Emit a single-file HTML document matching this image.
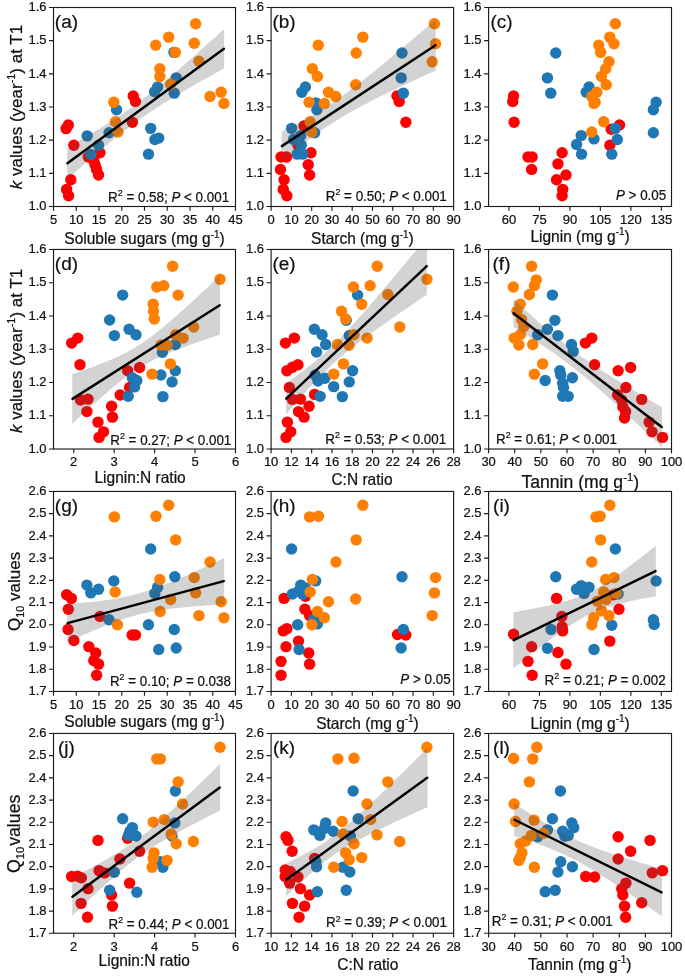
<!DOCTYPE html>
<html lang="en"><head><meta charset="utf-8"><title>Figure</title>
<style>html,body{margin:0;padding:0;background:#fff}svg{display:block}.t text{font-family:"Liberation Sans",Arial,Helvetica,sans-serif;fill:#111;stroke:#111;stroke-width:0.22px}</style></head>
<body>
<svg width="685" height="977" viewBox="0 0 685 977">
<rect width="685" height="977" fill="#ffffff"/>
<g id="panel-a">
<clipPath id="clip-a"><rect x="53.5" y="7.5" width="182" height="199"/></clipPath>
<g fill="#ff0000">
<circle cx="133.21" cy="95.92" r="5.7"/>
<circle cx="135.43" cy="101.47" r="5.7"/>
<circle cx="132.38" cy="122.27" r="5.7"/>
<circle cx="68.31" cy="125.04" r="5.7"/>
<circle cx="66.09" cy="128.65" r="5.7"/>
<circle cx="73.85" cy="145.29" r="5.7"/>
<circle cx="99.93" cy="152.78" r="5.7"/>
<circle cx="88.28" cy="156.94" r="5.7"/>
<circle cx="93.82" cy="161.1" r="5.7"/>
<circle cx="95.21" cy="165.26" r="5.7"/>
<circle cx="96.6" cy="169.42" r="5.7"/>
<circle cx="98.54" cy="174.97" r="5.7"/>
<circle cx="70.8" cy="179.69" r="5.7"/>
<circle cx="66.64" cy="189.39" r="5.7"/>
<circle cx="68.58" cy="195.77" r="5.7"/>
</g>
<g fill="#1f78b4">
<circle cx="173.99" cy="52.37" r="5.7"/>
<circle cx="176.2" cy="77.89" r="5.7"/>
<circle cx="157.62" cy="87.04" r="5.7"/>
<circle cx="154.57" cy="91.76" r="5.7"/>
<circle cx="174.26" cy="93.15" r="5.7"/>
<circle cx="116.57" cy="109.79" r="5.7"/>
<circle cx="150.69" cy="128.37" r="5.7"/>
<circle cx="158.73" cy="138.08" r="5.7"/>
<circle cx="154.85" cy="139.47" r="5.7"/>
<circle cx="148.47" cy="154.17" r="5.7"/>
<circle cx="87.17" cy="135.86" r="5.7"/>
<circle cx="109.08" cy="132.81" r="5.7"/>
<circle cx="98.54" cy="145.29" r="5.7"/>
<circle cx="90.77" cy="154.45" r="5.7"/>
</g>
<g fill="#ff7f00">
<circle cx="195.62" cy="23.8" r="5.7"/>
<circle cx="168.72" cy="37.12" r="5.7"/>
<circle cx="155.68" cy="45.16" r="5.7"/>
<circle cx="194.23" cy="43.22" r="5.7"/>
<circle cx="175.37" cy="52.37" r="5.7"/>
<circle cx="198.95" cy="61.25" r="5.7"/>
<circle cx="159.84" cy="68.74" r="5.7"/>
<circle cx="159.84" cy="76.5" r="5.7"/>
<circle cx="170.66" cy="84.27" r="5.7"/>
<circle cx="210.04" cy="96.47" r="5.7"/>
<circle cx="221.14" cy="92.31" r="5.7"/>
<circle cx="223.91" cy="103.41" r="5.7"/>
<circle cx="113.8" cy="102.3" r="5.7"/>
<circle cx="115.46" cy="121.72" r="5.7"/>
<circle cx="117.96" cy="131.98" r="5.7"/>
</g>
<polygon points="67.24,147.52 72.47,144.54 77.7,141.53 82.93,138.5 88.16,135.44 93.39,132.33 98.62,129.17 103.85,125.96 109.08,122.68 114.31,119.32 119.54,115.87 124.77,112.32 130,108.66 135.23,104.88 140.46,100.97 145.69,96.96 150.92,92.83 156.15,88.6 161.38,84.28 166.61,79.89 171.84,75.44 177.07,70.93 182.3,66.37 187.53,61.77 192.76,57.15 197.99,52.49 203.22,47.81 208.45,43.12 213.68,38.4 218.91,33.67 224.14,28.93 224.14,68.37 218.91,71.28 213.68,74.21 208.45,77.14 203.22,80.1 197.99,83.07 192.76,86.07 187.53,89.09 182.3,92.15 177.07,95.25 171.84,98.39 166.61,101.58 161.38,104.85 156.15,108.18 150.92,111.61 145.69,115.13 140.46,118.77 135.23,122.52 130,126.39 124.77,130.38 119.54,134.48 114.31,138.68 109.08,142.97 103.85,147.35 98.62,151.79 93.39,156.28 88.16,160.83 82.93,165.42 77.7,170.03 72.47,174.68 67.24,179.36" fill="rgb(80,80,80)" fill-opacity="0.25" clip-path="url(#clip-a)"/>
<line x1="67.45" y1="163.29" x2="223.94" y2="48.8" stroke="#000" stroke-width="2.45" stroke-linecap="round"/>
<rect x="53.5" y="7.5" width="182" height="199" fill="none" stroke="#1c1c1c" stroke-width="1.15"/>
<path d="M53.5 206.5v4.3M76.25 206.5v4.3M99 206.5v4.3M121.75 206.5v4.3M144.5 206.5v4.3M167.25 206.5v4.3M190 206.5v4.3M212.75 206.5v4.3M235.5 206.5v4.3M53.5 206.5h-4.5M53.5 173.33h-4.5M53.5 140.17h-4.5M53.5 107h-4.5M53.5 73.83h-4.5M53.5 40.67h-4.5M53.5 7.5h-4.5" stroke="#1c1c1c" stroke-width="1.15" fill="none"/>
<g class="t">
<text transform="translate(53.5 224.3) scale(1 1.05)" text-anchor="middle" font-size="13">5</text>
<text transform="translate(76.25 224.3) scale(1 1.05)" text-anchor="middle" font-size="13">10</text>
<text transform="translate(99 224.3) scale(1 1.05)" text-anchor="middle" font-size="13">15</text>
<text transform="translate(121.75 224.3) scale(1 1.05)" text-anchor="middle" font-size="13">20</text>
<text transform="translate(144.5 224.3) scale(1 1.05)" text-anchor="middle" font-size="13">25</text>
<text transform="translate(167.25 224.3) scale(1 1.05)" text-anchor="middle" font-size="13">30</text>
<text transform="translate(190 224.3) scale(1 1.05)" text-anchor="middle" font-size="13">35</text>
<text transform="translate(212.75 224.3) scale(1 1.05)" text-anchor="middle" font-size="13">40</text>
<text transform="translate(235.5 224.3) scale(1 1.05)" text-anchor="middle" font-size="13">45</text>
<text transform="translate(46.5 210.2) scale(1 1.05)" text-anchor="end" font-size="13">1.0</text>
<text transform="translate(46.5 177.03) scale(1 1.05)" text-anchor="end" font-size="13">1.1</text>
<text transform="translate(46.5 143.87) scale(1 1.05)" text-anchor="end" font-size="13">1.2</text>
<text transform="translate(46.5 110.7) scale(1 1.05)" text-anchor="end" font-size="13">1.3</text>
<text transform="translate(46.5 77.53) scale(1 1.05)" text-anchor="end" font-size="13">1.4</text>
<text transform="translate(46.5 44.37) scale(1 1.05)" text-anchor="end" font-size="13">1.5</text>
<text transform="translate(46.5 11.2) scale(1 1.05)" text-anchor="end" font-size="13">1.6</text>
<text transform="translate(144.5 244.2) scale(1 1.05)" text-anchor="middle" font-size="15.5">Soluble sugars (mg g<tspan dy="-6.2" font-size="9.92">-1</tspan><tspan dy="6.2">)</tspan></text>
<text transform="translate(21.6 107) rotate(-90) scale(1 1.0)" text-anchor="middle" font-size="17"><tspan font-style="italic">k</tspan> values (year<tspan dy="-6.8" font-size="10.88">-1</tspan><tspan dy="6.8">) at T1</tspan></text>
<text transform="translate(66.4 27.7) scale(1 0.97)" text-anchor="middle" font-size="19">(a)</text>
<text transform="translate(229.1 201.9) scale(1 1.05)" text-anchor="end" font-size="13.4">R<tspan dy="-5.6" font-size="8.84">2</tspan><tspan dy="5.6"> = 0.58; </tspan><tspan font-style="italic">P</tspan> &lt; 0.001</text>
</g>
</g>
<g id="panel-b">
<clipPath id="clip-b"><rect x="271.1" y="7.5" width="182.5" height="199"/></clipPath>
<g fill="#ff0000">
<circle cx="396.98" cy="95.92" r="5.7"/>
<circle cx="399.2" cy="101.47" r="5.7"/>
<circle cx="405.85" cy="122.27" r="5.7"/>
<circle cx="304.06" cy="125.88" r="5.7"/>
<circle cx="297.96" cy="145.29" r="5.7"/>
<circle cx="310.99" cy="152.78" r="5.7"/>
<circle cx="281.04" cy="156.94" r="5.7"/>
<circle cx="286.58" cy="156.94" r="5.7"/>
<circle cx="308.22" cy="164.71" r="5.7"/>
<circle cx="280.48" cy="169.42" r="5.7"/>
<circle cx="309.61" cy="174.97" r="5.7"/>
<circle cx="284.09" cy="179.69" r="5.7"/>
<circle cx="283.26" cy="189.39" r="5.7"/>
<circle cx="286.86" cy="195.77" r="5.7"/>
</g>
<g fill="#1f78b4">
<circle cx="401.97" cy="52.93" r="5.7"/>
<circle cx="401.14" cy="77.89" r="5.7"/>
<circle cx="403.36" cy="93.15" r="5.7"/>
<circle cx="305.45" cy="87.04" r="5.7"/>
<circle cx="301.84" cy="92.31" r="5.7"/>
<circle cx="315.71" cy="102.85" r="5.7"/>
<circle cx="316.82" cy="109.79" r="5.7"/>
<circle cx="291.58" cy="128.37" r="5.7"/>
<circle cx="314.6" cy="132.81" r="5.7"/>
<circle cx="300.73" cy="135.58" r="5.7"/>
<circle cx="293.52" cy="139.47" r="5.7"/>
<circle cx="298.51" cy="140.3" r="5.7"/>
<circle cx="301.28" cy="145.29" r="5.7"/>
<circle cx="297.12" cy="154.17" r="5.7"/>
<circle cx="302.67" cy="154.17" r="5.7"/>
</g>
<g fill="#ff7f00">
<circle cx="434.42" cy="23.8" r="5.7"/>
<circle cx="435.53" cy="43.77" r="5.7"/>
<circle cx="432.2" cy="61.8" r="5.7"/>
<circle cx="362.86" cy="37.12" r="5.7"/>
<circle cx="318.2" cy="45.16" r="5.7"/>
<circle cx="356.2" cy="52.93" r="5.7"/>
<circle cx="312.38" cy="68.74" r="5.7"/>
<circle cx="317.37" cy="76.5" r="5.7"/>
<circle cx="355.65" cy="84.82" r="5.7"/>
<circle cx="328.47" cy="92.31" r="5.7"/>
<circle cx="335.68" cy="96.47" r="5.7"/>
<circle cx="309.05" cy="102.3" r="5.7"/>
<circle cx="324.31" cy="103.41" r="5.7"/>
<circle cx="310.16" cy="121.72" r="5.7"/>
<circle cx="311.82" cy="131.98" r="5.7"/>
</g>
<polygon points="281.64,131.5 286.77,128.92 291.91,126.3 297.05,123.63 302.19,120.88 307.32,118.05 312.46,115.14 317.6,112.12 322.74,108.98 327.88,105.72 333.01,102.34 338.15,98.83 343.29,95.2 348.43,91.45 353.56,87.61 358.7,83.67 363.84,79.65 368.98,75.57 374.11,71.43 379.25,67.25 384.39,63.02 389.53,58.76 394.66,54.47 399.8,50.15 404.94,45.81 410.08,41.46 415.21,37.09 420.35,32.7 425.49,28.31 430.63,23.9 435.76,19.48 435.76,70.52 430.63,72.85 425.49,75.2 420.35,77.55 415.21,79.92 410.08,82.3 404.94,84.7 399.8,87.11 394.66,89.55 389.53,92.01 384.39,94.5 379.25,97.03 374.11,99.59 368.98,102.21 363.84,104.88 358.7,107.61 353.56,110.43 348.43,113.34 343.29,116.34 338.15,119.46 333.01,122.71 327.88,126.07 322.74,129.57 317.6,133.19 312.46,136.92 307.32,140.75 302.19,144.68 297.05,148.69 291.91,152.76 286.77,156.89 281.64,161.07" fill="rgb(80,80,80)" fill-opacity="0.25" clip-path="url(#clip-b)"/>
<line x1="281.87" y1="146.13" x2="435.53" y2="45.16" stroke="#000" stroke-width="2.45" stroke-linecap="round"/>
<rect x="271.1" y="7.5" width="182.5" height="199" fill="none" stroke="#1c1c1c" stroke-width="1.15"/>
<path d="M271.1 206.5v4.3M291.38 206.5v4.3M311.66 206.5v4.3M331.93 206.5v4.3M352.21 206.5v4.3M372.49 206.5v4.3M392.77 206.5v4.3M413.04 206.5v4.3M433.32 206.5v4.3M453.6 206.5v4.3M271.1 206.5h-4.5M271.1 173.33h-4.5M271.1 140.17h-4.5M271.1 107h-4.5M271.1 73.83h-4.5M271.1 40.67h-4.5M271.1 7.5h-4.5" stroke="#1c1c1c" stroke-width="1.15" fill="none"/>
<g class="t">
<text transform="translate(271.1 224.3) scale(1 1.05)" text-anchor="middle" font-size="13">0</text>
<text transform="translate(291.38 224.3) scale(1 1.05)" text-anchor="middle" font-size="13">10</text>
<text transform="translate(311.66 224.3) scale(1 1.05)" text-anchor="middle" font-size="13">20</text>
<text transform="translate(331.93 224.3) scale(1 1.05)" text-anchor="middle" font-size="13">30</text>
<text transform="translate(352.21 224.3) scale(1 1.05)" text-anchor="middle" font-size="13">40</text>
<text transform="translate(372.49 224.3) scale(1 1.05)" text-anchor="middle" font-size="13">50</text>
<text transform="translate(392.77 224.3) scale(1 1.05)" text-anchor="middle" font-size="13">60</text>
<text transform="translate(413.04 224.3) scale(1 1.05)" text-anchor="middle" font-size="13">70</text>
<text transform="translate(433.32 224.3) scale(1 1.05)" text-anchor="middle" font-size="13">80</text>
<text transform="translate(453.6 224.3) scale(1 1.05)" text-anchor="middle" font-size="13">90</text>
<text transform="translate(264.1 210.2) scale(1 1.05)" text-anchor="end" font-size="13">1.0</text>
<text transform="translate(264.1 177.03) scale(1 1.05)" text-anchor="end" font-size="13">1.1</text>
<text transform="translate(264.1 143.87) scale(1 1.05)" text-anchor="end" font-size="13">1.2</text>
<text transform="translate(264.1 110.7) scale(1 1.05)" text-anchor="end" font-size="13">1.3</text>
<text transform="translate(264.1 77.53) scale(1 1.05)" text-anchor="end" font-size="13">1.4</text>
<text transform="translate(264.1 44.37) scale(1 1.05)" text-anchor="end" font-size="13">1.5</text>
<text transform="translate(264.1 11.2) scale(1 1.05)" text-anchor="end" font-size="13">1.6</text>
<text transform="translate(362.35 244.2) scale(1 1.05)" text-anchor="middle" font-size="15.5">Starch (mg g<tspan dy="-6.2" font-size="9.92">-1</tspan><tspan dy="6.2">)</tspan></text>
<text transform="translate(284 27.7) scale(1 0.97)" text-anchor="middle" font-size="19">(b)</text>
<text transform="translate(446.8 201.3) scale(1 1.05)" text-anchor="end" font-size="13.4">R<tspan dy="-5.6" font-size="8.84">2</tspan><tspan dy="5.6"> = 0.50; </tspan><tspan font-style="italic">P</tspan> &lt; 0.001</text>
</g>
</g>
<g id="panel-c">
<clipPath id="clip-c"><rect x="488.6" y="7.5" width="182.9" height="199"/></clipPath>
<g fill="#ff0000">
<circle cx="513.57" cy="95.92" r="5.7"/>
<circle cx="512.74" cy="101.47" r="5.7"/>
<circle cx="514.12" cy="122.27" r="5.7"/>
<circle cx="619.53" cy="125.04" r="5.7"/>
<circle cx="611.2" cy="129.2" r="5.7"/>
<circle cx="609.82" cy="145.29" r="5.7"/>
<circle cx="562.11" cy="152.78" r="5.7"/>
<circle cx="527.99" cy="156.94" r="5.7"/>
<circle cx="532.15" cy="156.94" r="5.7"/>
<circle cx="557.95" cy="163.88" r="5.7"/>
<circle cx="531.6" cy="169.42" r="5.7"/>
<circle cx="565.99" cy="174.97" r="5.7"/>
<circle cx="556.56" cy="179.69" r="5.7"/>
<circle cx="562.66" cy="189.39" r="5.7"/>
<circle cx="562.11" cy="195.77" r="5.7"/>
</g>
<g fill="#1f78b4">
<circle cx="555.73" cy="52.93" r="5.7"/>
<circle cx="547.41" cy="77.89" r="5.7"/>
<circle cx="550.74" cy="93.15" r="5.7"/>
<circle cx="589.01" cy="87.04" r="5.7"/>
<circle cx="586.24" cy="92.31" r="5.7"/>
<circle cx="656.14" cy="102.3" r="5.7"/>
<circle cx="653.36" cy="109.79" r="5.7"/>
<circle cx="653.36" cy="132.81" r="5.7"/>
<circle cx="615.36" cy="128.37" r="5.7"/>
<circle cx="581.25" cy="135.58" r="5.7"/>
<circle cx="594.01" cy="138.91" r="5.7"/>
<circle cx="617.31" cy="139.47" r="5.7"/>
<circle cx="576.53" cy="144.46" r="5.7"/>
<circle cx="581.53" cy="154.17" r="5.7"/>
<circle cx="611.76" cy="154.17" r="5.7"/>
</g>
<g fill="#ff7f00">
<circle cx="615.36" cy="23.8" r="5.7"/>
<circle cx="609.82" cy="37.12" r="5.7"/>
<circle cx="613.98" cy="43.77" r="5.7"/>
<circle cx="598.72" cy="45.16" r="5.7"/>
<circle cx="600.66" cy="52.37" r="5.7"/>
<circle cx="608.99" cy="61.8" r="5.7"/>
<circle cx="605.66" cy="68.74" r="5.7"/>
<circle cx="601.5" cy="76.5" r="5.7"/>
<circle cx="606.21" cy="84.82" r="5.7"/>
<circle cx="596.78" cy="92.31" r="5.7"/>
<circle cx="591.79" cy="96.47" r="5.7"/>
<circle cx="595.12" cy="102.3" r="5.7"/>
<circle cx="594.01" cy="103.41" r="5.7"/>
<circle cx="603.72" cy="121.72" r="5.7"/>
<circle cx="591.79" cy="131.98" r="5.7"/>
</g>
<rect x="488.6" y="7.5" width="182.9" height="199" fill="none" stroke="#1c1c1c" stroke-width="1.15"/>
<path d="M508.92 206.5v4.3M539.41 206.5v4.3M569.89 206.5v4.3M600.37 206.5v4.3M630.86 206.5v4.3M661.34 206.5v4.3M488.6 206.5h-4.5M488.6 173.33h-4.5M488.6 140.17h-4.5M488.6 107h-4.5M488.6 73.83h-4.5M488.6 40.67h-4.5M488.6 7.5h-4.5" stroke="#1c1c1c" stroke-width="1.15" fill="none"/>
<g class="t">
<text transform="translate(508.92 224.3) scale(1 1.05)" text-anchor="middle" font-size="13">60</text>
<text transform="translate(539.41 224.3) scale(1 1.05)" text-anchor="middle" font-size="13">75</text>
<text transform="translate(569.89 224.3) scale(1 1.05)" text-anchor="middle" font-size="13">90</text>
<text transform="translate(600.37 224.3) scale(1 1.05)" text-anchor="middle" font-size="13">105</text>
<text transform="translate(630.86 224.3) scale(1 1.05)" text-anchor="middle" font-size="13">120</text>
<text transform="translate(661.34 224.3) scale(1 1.05)" text-anchor="middle" font-size="13">135</text>
<text transform="translate(481.6 210.2) scale(1 1.05)" text-anchor="end" font-size="13">1.0</text>
<text transform="translate(481.6 177.03) scale(1 1.05)" text-anchor="end" font-size="13">1.1</text>
<text transform="translate(481.6 143.87) scale(1 1.05)" text-anchor="end" font-size="13">1.2</text>
<text transform="translate(481.6 110.7) scale(1 1.05)" text-anchor="end" font-size="13">1.3</text>
<text transform="translate(481.6 77.53) scale(1 1.05)" text-anchor="end" font-size="13">1.4</text>
<text transform="translate(481.6 44.37) scale(1 1.05)" text-anchor="end" font-size="13">1.5</text>
<text transform="translate(481.6 11.2) scale(1 1.05)" text-anchor="end" font-size="13">1.6</text>
<text transform="translate(580.05 241.8) scale(1 1.05)" text-anchor="middle" font-size="15.5">Lignin (mg g<tspan dy="-6.2" font-size="9.92">-1</tspan><tspan dy="6.2">)</tspan></text>
<text transform="translate(501.5 27.7) scale(1 0.97)" text-anchor="middle" font-size="19">(c)</text>
<text transform="translate(666.2 200) scale(1 1.05)" text-anchor="end" font-size="13.4"><tspan font-style="italic">P</tspan> &gt; 0.05</text>
</g>
</g>
<g id="panel-d">
<clipPath id="clip-d"><rect x="53.5" y="249.45" width="182" height="199.55"/></clipPath>
<g fill="#ff0000">
<circle cx="77.74" cy="338.09" r="5.7"/>
<circle cx="71.64" cy="343.08" r="5.7"/>
<circle cx="79.96" cy="364.72" r="5.7"/>
<circle cx="139.59" cy="367.49" r="5.7"/>
<circle cx="127.66" cy="370.82" r="5.7"/>
<circle cx="129.61" cy="387.46" r="5.7"/>
<circle cx="120.18" cy="394.95" r="5.7"/>
<circle cx="80.51" cy="399.94" r="5.7"/>
<circle cx="88" cy="399.11" r="5.7"/>
<circle cx="111.58" cy="406.32" r="5.7"/>
<circle cx="86.89" cy="411.59" r="5.7"/>
<circle cx="112.41" cy="417.14" r="5.7"/>
<circle cx="97.99" cy="422.13" r="5.7"/>
<circle cx="103.53" cy="431.84" r="5.7"/>
<circle cx="99.09" cy="437.39" r="5.7"/>
</g>
<g fill="#1f78b4">
<circle cx="122.67" cy="295.09" r="5.7"/>
<circle cx="109.64" cy="320.06" r="5.7"/>
<circle cx="129.05" cy="329.21" r="5.7"/>
<circle cx="135.99" cy="334.76" r="5.7"/>
<circle cx="114.35" cy="335.59" r="5.7"/>
<circle cx="175.37" cy="344.47" r="5.7"/>
<circle cx="162.34" cy="352.23" r="5.7"/>
<circle cx="175.37" cy="370.82" r="5.7"/>
<circle cx="160.95" cy="374.98" r="5.7"/>
<circle cx="132.38" cy="377.75" r="5.7"/>
<circle cx="136.82" cy="380.53" r="5.7"/>
<circle cx="172.04" cy="381.91" r="5.7"/>
<circle cx="134.6" cy="386.91" r="5.7"/>
<circle cx="128.22" cy="396.34" r="5.7"/>
<circle cx="162.89" cy="396.61" r="5.7"/>
</g>
<g fill="#ff7f00">
<circle cx="172.6" cy="266.25" r="5.7"/>
<circle cx="220.03" cy="279.28" r="5.7"/>
<circle cx="163.72" cy="285.66" r="5.7"/>
<circle cx="156.79" cy="287.05" r="5.7"/>
<circle cx="178.15" cy="295.09" r="5.7"/>
<circle cx="153.18" cy="304.25" r="5.7"/>
<circle cx="153.46" cy="311.18" r="5.7"/>
<circle cx="154.29" cy="318.95" r="5.7"/>
<circle cx="193.68" cy="326.99" r="5.7"/>
<circle cx="175.65" cy="334.76" r="5.7"/>
<circle cx="183.14" cy="338.09" r="5.7"/>
<circle cx="160.95" cy="345.02" r="5.7"/>
<circle cx="167.05" cy="345.3" r="5.7"/>
<circle cx="170.38" cy="363.88" r="5.7"/>
<circle cx="152.07" cy="374.15" r="5.7"/>
</g>
<polygon points="72.24,374.09 77.16,372.4 82.08,370.69 87.01,368.94 91.93,367.15 96.86,365.32 101.78,363.42 106.71,361.45 111.63,359.38 116.56,357.2 121.48,354.87 126.41,352.38 131.33,349.7 136.26,346.79 141.18,343.65 146.11,340.29 151.03,336.7 155.96,332.93 160.88,328.98 165.81,324.9 170.73,320.71 175.66,316.42 180.58,312.06 185.51,307.63 190.43,303.16 195.36,298.65 200.28,294.11 205.21,289.54 210.13,284.94 215.06,280.33 219.98,275.7 219.98,334.67 215.06,336.29 210.13,337.93 205.21,339.59 200.28,341.28 195.36,342.99 190.43,344.73 185.51,346.52 180.58,348.35 175.66,350.24 170.73,352.21 165.81,354.27 160.88,356.44 155.96,358.75 151.03,361.23 146.11,363.9 141.18,366.79 136.26,369.91 131.33,373.26 126.41,376.83 121.48,380.59 116.56,384.52 111.63,388.59 106.71,392.78 101.78,397.06 96.86,401.42 91.93,405.84 87.01,410.31 82.08,414.81 77.16,419.36 72.24,423.93" fill="rgb(80,80,80)" fill-opacity="0.25" clip-path="url(#clip-d)"/>
<line x1="72.48" y1="398.85" x2="219.74" y2="305.34" stroke="#000" stroke-width="2.45" stroke-linecap="round"/>
<rect x="53.5" y="249.45" width="182" height="199.55" fill="none" stroke="#1c1c1c" stroke-width="1.15"/>
<path d="M73.72 449v4.3M114.17 449v4.3M154.61 449v4.3M195.06 449v4.3M235.5 449v4.3M53.5 449h-4.5M53.5 415.74h-4.5M53.5 382.48h-4.5M53.5 349.23h-4.5M53.5 315.97h-4.5M53.5 282.71h-4.5M53.5 249.45h-4.5" stroke="#1c1c1c" stroke-width="1.15" fill="none"/>
<g class="t">
<text transform="translate(73.72 466.3) scale(1 1.05)" text-anchor="middle" font-size="13">2</text>
<text transform="translate(114.17 466.3) scale(1 1.05)" text-anchor="middle" font-size="13">3</text>
<text transform="translate(154.61 466.3) scale(1 1.05)" text-anchor="middle" font-size="13">4</text>
<text transform="translate(195.06 466.3) scale(1 1.05)" text-anchor="middle" font-size="13">5</text>
<text transform="translate(235.5 466.3) scale(1 1.05)" text-anchor="middle" font-size="13">6</text>
<text transform="translate(46.5 452.7) scale(1 1.05)" text-anchor="end" font-size="13">1.0</text>
<text transform="translate(46.5 419.44) scale(1 1.05)" text-anchor="end" font-size="13">1.1</text>
<text transform="translate(46.5 386.18) scale(1 1.05)" text-anchor="end" font-size="13">1.2</text>
<text transform="translate(46.5 352.93) scale(1 1.05)" text-anchor="end" font-size="13">1.3</text>
<text transform="translate(46.5 319.67) scale(1 1.05)" text-anchor="end" font-size="13">1.4</text>
<text transform="translate(46.5 286.41) scale(1 1.05)" text-anchor="end" font-size="13">1.5</text>
<text transform="translate(46.5 253.15) scale(1 1.05)" text-anchor="end" font-size="13">1.6</text>
<text transform="translate(140.1 482.6) scale(1 1.05)" text-anchor="middle" font-size="15.5">Lignin:N ratio</text>
<text transform="translate(21.6 350.93) rotate(-90) scale(1 1.0)" text-anchor="middle" font-size="17"><tspan font-style="italic">k</tspan> values (year<tspan dy="-6.8" font-size="10.88">-1</tspan><tspan dy="6.8">) at T1</tspan></text>
<text transform="translate(66.4 269.65) scale(1 0.97)" text-anchor="middle" font-size="19">(d)</text>
<text transform="translate(231.3 444.5) scale(1 1.05)" text-anchor="end" font-size="13.4">R<tspan dy="-5.6" font-size="8.84">2</tspan><tspan dy="5.6"> = 0.27; </tspan><tspan font-style="italic">P</tspan> &lt; 0.001</text>
</g>
</g>
<g id="panel-e">
<clipPath id="clip-e"><rect x="271.1" y="249.45" width="182.5" height="199.55"/></clipPath>
<g fill="#ff0000">
<circle cx="294.35" cy="338.09" r="5.7"/>
<circle cx="285.47" cy="343.08" r="5.7"/>
<circle cx="297.96" cy="364.72" r="5.7"/>
<circle cx="292.41" cy="367.21" r="5.7"/>
<circle cx="286.86" cy="370.82" r="5.7"/>
<circle cx="289.36" cy="387.46" r="5.7"/>
<circle cx="314.6" cy="394.39" r="5.7"/>
<circle cx="292.41" cy="399.39" r="5.7"/>
<circle cx="300.45" cy="399.11" r="5.7"/>
<circle cx="309.05" cy="406.32" r="5.7"/>
<circle cx="298.51" cy="411.59" r="5.7"/>
<circle cx="304.06" cy="417.14" r="5.7"/>
<circle cx="287.42" cy="422.13" r="5.7"/>
<circle cx="290.74" cy="431.84" r="5.7"/>
<circle cx="286.03" cy="437.39" r="5.7"/>
</g>
<g fill="#1f78b4">
<circle cx="357.59" cy="295.09" r="5.7"/>
<circle cx="346.22" cy="320.34" r="5.7"/>
<circle cx="314.32" cy="329.21" r="5.7"/>
<circle cx="322.09" cy="334.76" r="5.7"/>
<circle cx="349.27" cy="335.59" r="5.7"/>
<circle cx="325.69" cy="344.47" r="5.7"/>
<circle cx="316.54" cy="351.96" r="5.7"/>
<circle cx="352.6" cy="370.82" r="5.7"/>
<circle cx="315.15" cy="374.98" r="5.7"/>
<circle cx="324.86" cy="378.31" r="5.7"/>
<circle cx="317.93" cy="381.08" r="5.7"/>
<circle cx="349.27" cy="381.91" r="5.7"/>
<circle cx="333.74" cy="386.63" r="5.7"/>
<circle cx="320.15" cy="396.34" r="5.7"/>
<circle cx="342.34" cy="396.61" r="5.7"/>
</g>
<g fill="#ff7f00">
<circle cx="377.28" cy="266.25" r="5.7"/>
<circle cx="426.93" cy="279.28" r="5.7"/>
<circle cx="370.07" cy="285.66" r="5.7"/>
<circle cx="353.43" cy="287.05" r="5.7"/>
<circle cx="387.82" cy="294.54" r="5.7"/>
<circle cx="361.75" cy="304.25" r="5.7"/>
<circle cx="341.5" cy="311.18" r="5.7"/>
<circle cx="345.66" cy="318.95" r="5.7"/>
<circle cx="399.75" cy="326.99" r="5.7"/>
<circle cx="353.99" cy="334.76" r="5.7"/>
<circle cx="367.02" cy="338.09" r="5.7"/>
<circle cx="337.34" cy="344.47" r="5.7"/>
<circle cx="348.99" cy="345.3" r="5.7"/>
<circle cx="343.45" cy="363.88" r="5.7"/>
<circle cx="333.74" cy="374.15" r="5.7"/>
</g>
<polygon points="286.07,383.32 290.77,379.93 295.46,376.49 300.16,372.99 304.85,369.42 309.54,365.75 314.24,361.97 318.93,358.05 323.63,353.97 328.32,349.72 333.01,345.28 337.71,340.65 342.4,335.85 347.09,330.9 351.79,325.81 356.48,320.61 361.18,315.31 365.87,309.95 370.56,304.52 375.26,299.05 379.95,293.54 384.64,288 389.34,282.43 394.03,276.84 398.73,271.23 403.42,265.6 408.11,259.96 412.81,254.31 417.5,248.65 422.2,242.99 426.89,237.31 426.89,294.65 422.2,297.83 417.5,301.02 412.81,304.22 408.11,307.43 403.42,310.64 398.73,313.87 394.03,317.12 389.34,320.38 384.64,323.67 379.95,326.98 375.26,330.33 370.56,333.71 365.87,337.14 361.18,340.63 356.48,344.2 351.79,347.85 347.09,351.62 342.4,355.52 337.71,359.57 333.01,363.8 328.32,368.22 323.63,372.82 318.93,377.6 314.24,382.54 309.54,387.61 304.85,392.8 300.16,398.08 295.46,403.44 290.77,408.85 286.07,414.32" fill="rgb(80,80,80)" fill-opacity="0.25" clip-path="url(#clip-e)"/>
<line x1="286.2" y1="398.7" x2="426.76" y2="266.1" stroke="#000" stroke-width="2.45" stroke-linecap="round"/>
<rect x="271.1" y="249.45" width="182.5" height="199.55" fill="none" stroke="#1c1c1c" stroke-width="1.15"/>
<path d="M271.1 449v4.3M291.38 449v4.3M311.66 449v4.3M331.93 449v4.3M352.21 449v4.3M372.49 449v4.3M392.77 449v4.3M413.04 449v4.3M433.32 449v4.3M453.6 449v4.3M271.1 449h-4.5M271.1 415.74h-4.5M271.1 382.48h-4.5M271.1 349.23h-4.5M271.1 315.97h-4.5M271.1 282.71h-4.5M271.1 249.45h-4.5" stroke="#1c1c1c" stroke-width="1.15" fill="none"/>
<g class="t">
<text transform="translate(271.1 466.3) scale(1 1.05)" text-anchor="middle" font-size="13">10</text>
<text transform="translate(291.38 466.3) scale(1 1.05)" text-anchor="middle" font-size="13">12</text>
<text transform="translate(311.66 466.3) scale(1 1.05)" text-anchor="middle" font-size="13">14</text>
<text transform="translate(331.93 466.3) scale(1 1.05)" text-anchor="middle" font-size="13">16</text>
<text transform="translate(352.21 466.3) scale(1 1.05)" text-anchor="middle" font-size="13">18</text>
<text transform="translate(372.49 466.3) scale(1 1.05)" text-anchor="middle" font-size="13">20</text>
<text transform="translate(392.77 466.3) scale(1 1.05)" text-anchor="middle" font-size="13">22</text>
<text transform="translate(413.04 466.3) scale(1 1.05)" text-anchor="middle" font-size="13">24</text>
<text transform="translate(433.32 466.3) scale(1 1.05)" text-anchor="middle" font-size="13">26</text>
<text transform="translate(453.6 466.3) scale(1 1.05)" text-anchor="middle" font-size="13">28</text>
<text transform="translate(264.1 452.7) scale(1 1.05)" text-anchor="end" font-size="13">1.0</text>
<text transform="translate(264.1 419.44) scale(1 1.05)" text-anchor="end" font-size="13">1.1</text>
<text transform="translate(264.1 386.18) scale(1 1.05)" text-anchor="end" font-size="13">1.2</text>
<text transform="translate(264.1 352.93) scale(1 1.05)" text-anchor="end" font-size="13">1.3</text>
<text transform="translate(264.1 319.67) scale(1 1.05)" text-anchor="end" font-size="13">1.4</text>
<text transform="translate(264.1 286.41) scale(1 1.05)" text-anchor="end" font-size="13">1.5</text>
<text transform="translate(264.1 253.15) scale(1 1.05)" text-anchor="end" font-size="13">1.6</text>
<text transform="translate(361.95 484.8) scale(1 1.05)" text-anchor="middle" font-size="15.5">C:N ratio</text>
<text transform="translate(284 269.65) scale(1 0.97)" text-anchor="middle" font-size="19">(e)</text>
<text transform="translate(446.2 444) scale(1 1.05)" text-anchor="end" font-size="13.4">R<tspan dy="-5.6" font-size="8.84">2</tspan><tspan dy="5.6"> = 0.53; </tspan><tspan font-style="italic">P</tspan> &lt; 0.001</text>
</g>
</g>
<g id="panel-f">
<clipPath id="clip-f"><rect x="488.6" y="249.45" width="182.9" height="199.55"/></clipPath>
<g fill="#ff0000">
<circle cx="591.79" cy="338.09" r="5.7"/>
<circle cx="585.41" cy="343.08" r="5.7"/>
<circle cx="594.56" cy="364.72" r="5.7"/>
<circle cx="630.62" cy="367.49" r="5.7"/>
<circle cx="618.14" cy="370.82" r="5.7"/>
<circle cx="625.91" cy="387.46" r="5.7"/>
<circle cx="617.58" cy="394.95" r="5.7"/>
<circle cx="641.72" cy="399.39" r="5.7"/>
<circle cx="621.74" cy="399.94" r="5.7"/>
<circle cx="622.85" cy="406.88" r="5.7"/>
<circle cx="625.63" cy="411.59" r="5.7"/>
<circle cx="624.52" cy="417.97" r="5.7"/>
<circle cx="649.2" cy="422.13" r="5.7"/>
<circle cx="651.98" cy="431.84" r="5.7"/>
<circle cx="662.52" cy="437.39" r="5.7"/>
</g>
<g fill="#1f78b4">
<circle cx="552.4" cy="295.09" r="5.7"/>
<circle cx="554.9" cy="320.34" r="5.7"/>
<circle cx="547.41" cy="329.21" r="5.7"/>
<circle cx="537.7" cy="334.76" r="5.7"/>
<circle cx="557.95" cy="335.59" r="5.7"/>
<circle cx="571.54" cy="344.47" r="5.7"/>
<circle cx="573.2" cy="351.4" r="5.7"/>
<circle cx="559.89" cy="370.82" r="5.7"/>
<circle cx="560.72" cy="374.98" r="5.7"/>
<circle cx="572.37" cy="377.75" r="5.7"/>
<circle cx="545.19" cy="380.53" r="5.7"/>
<circle cx="562.66" cy="383.3" r="5.7"/>
<circle cx="563.5" cy="387.46" r="5.7"/>
<circle cx="562.66" cy="396.34" r="5.7"/>
<circle cx="568.21" cy="396.34" r="5.7"/>
</g>
<g fill="#ff7f00">
<circle cx="531.6" cy="266.25" r="5.7"/>
<circle cx="536.31" cy="279.84" r="5.7"/>
<circle cx="534.37" cy="285.66" r="5.7"/>
<circle cx="513.29" cy="287.05" r="5.7"/>
<circle cx="529.38" cy="294.54" r="5.7"/>
<circle cx="520.23" cy="304.25" r="5.7"/>
<circle cx="516.9" cy="311.18" r="5.7"/>
<circle cx="521.61" cy="319.5" r="5.7"/>
<circle cx="523.83" cy="326.44" r="5.7"/>
<circle cx="520.23" cy="334.76" r="5.7"/>
<circle cx="514.12" cy="338.09" r="5.7"/>
<circle cx="518.84" cy="345.02" r="5.7"/>
<circle cx="532.71" cy="344.47" r="5.7"/>
<circle cx="542.69" cy="363.88" r="5.7"/>
<circle cx="534.37" cy="374.15" r="5.7"/>
</g>
<polygon points="513.34,299.07 518.29,303.64 523.24,308.17 528.2,312.67 533.15,317.13 538.1,321.54 543.05,325.89 548.01,330.17 552.96,334.37 557.91,338.49 562.86,342.5 567.82,346.41 572.77,350.2 577.72,353.89 582.68,357.47 587.63,360.96 592.58,364.35 597.53,367.67 602.49,370.92 607.44,374.12 612.39,377.27 617.34,380.37 622.3,383.45 627.25,386.49 632.2,389.51 637.15,392.51 642.11,395.49 647.06,398.46 652.01,401.41 656.97,404.35 661.92,407.29 661.92,447.15 656.97,442.47 652.01,437.8 647.06,433.14 642.11,428.49 637.15,423.86 632.2,419.25 627.25,414.66 622.3,410.09 617.34,405.55 612.39,401.04 607.44,396.58 602.49,392.16 597.53,387.8 592.58,383.51 587.63,379.29 582.68,375.16 577.72,371.13 572.77,367.21 567.82,363.39 562.86,359.69 557.91,356.09 552.96,352.59 548.01,349.18 543.05,345.85 538.1,342.59 533.15,339.38 528.2,336.23 523.24,333.11 518.29,330.04 513.34,326.99" fill="rgb(80,80,80)" fill-opacity="0.25" clip-path="url(#clip-f)"/>
<line x1="513.53" y1="313.18" x2="661.73" y2="427.07" stroke="#000" stroke-width="2.45" stroke-linecap="round"/>
<rect x="488.6" y="249.45" width="182.9" height="199.55" fill="none" stroke="#1c1c1c" stroke-width="1.15"/>
<path d="M488.6 449v4.3M514.73 449v4.3M540.86 449v4.3M566.99 449v4.3M593.11 449v4.3M619.24 449v4.3M645.37 449v4.3M671.5 449v4.3M488.6 449h-4.5M488.6 415.74h-4.5M488.6 382.48h-4.5M488.6 349.23h-4.5M488.6 315.97h-4.5M488.6 282.71h-4.5M488.6 249.45h-4.5" stroke="#1c1c1c" stroke-width="1.15" fill="none"/>
<g class="t">
<text transform="translate(488.6 466.3) scale(1 1.05)" text-anchor="middle" font-size="13">30</text>
<text transform="translate(514.73 466.3) scale(1 1.05)" text-anchor="middle" font-size="13">40</text>
<text transform="translate(540.86 466.3) scale(1 1.05)" text-anchor="middle" font-size="13">50</text>
<text transform="translate(566.99 466.3) scale(1 1.05)" text-anchor="middle" font-size="13">60</text>
<text transform="translate(593.11 466.3) scale(1 1.05)" text-anchor="middle" font-size="13">70</text>
<text transform="translate(619.24 466.3) scale(1 1.05)" text-anchor="middle" font-size="13">80</text>
<text transform="translate(645.37 466.3) scale(1 1.05)" text-anchor="middle" font-size="13">90</text>
<text transform="translate(671.5 466.3) scale(1 1.05)" text-anchor="middle" font-size="13">100</text>
<text transform="translate(481.6 452.7) scale(1 1.05)" text-anchor="end" font-size="13">1.0</text>
<text transform="translate(481.6 419.44) scale(1 1.05)" text-anchor="end" font-size="13">1.1</text>
<text transform="translate(481.6 386.18) scale(1 1.05)" text-anchor="end" font-size="13">1.2</text>
<text transform="translate(481.6 352.93) scale(1 1.05)" text-anchor="end" font-size="13">1.3</text>
<text transform="translate(481.6 319.67) scale(1 1.05)" text-anchor="end" font-size="13">1.4</text>
<text transform="translate(481.6 286.41) scale(1 1.05)" text-anchor="end" font-size="13">1.5</text>
<text transform="translate(481.6 253.15) scale(1 1.05)" text-anchor="end" font-size="13">1.6</text>
<text transform="translate(580.25 487.6) scale(1 1.05)" text-anchor="middle" font-size="17.6">Tannin (mg g<tspan dy="-6.2" font-size="11.26">-1</tspan><tspan dy="6.2">)</tspan></text>
<text transform="translate(501.5 269.65) scale(1 0.97)" text-anchor="middle" font-size="19">(f)</text>
<text transform="translate(496 443.7) scale(1 1.05)" font-size="13.4">R<tspan dy="-5.6" font-size="8.84">2</tspan><tspan dy="5.6"> = 0.61; </tspan><tspan font-style="italic">P</tspan> &lt; 0.001</text>
</g>
</g>
<g id="panel-g">
<clipPath id="clip-g"><rect x="53.5" y="491.45" width="182" height="200"/></clipPath>
<g fill="#ff0000">
<circle cx="66.64" cy="594.79" r="5.7"/>
<circle cx="71.36" cy="598.39" r="5.7"/>
<circle cx="68.31" cy="609.21" r="5.7"/>
<circle cx="99.93" cy="616.42" r="5.7"/>
<circle cx="68.03" cy="629.46" r="5.7"/>
<circle cx="132.1" cy="635.01" r="5.7"/>
<circle cx="135.43" cy="635.01" r="5.7"/>
<circle cx="73.85" cy="640.55" r="5.7"/>
<circle cx="88.83" cy="646.66" r="5.7"/>
<circle cx="95.77" cy="653.04" r="5.7"/>
<circle cx="93.82" cy="660.53" r="5.7"/>
<circle cx="98.54" cy="664.13" r="5.7"/>
<circle cx="96.6" cy="675.23" r="5.7"/>
</g>
<g fill="#1f78b4">
<circle cx="150.69" cy="549.02" r="5.7"/>
<circle cx="174.82" cy="576.76" r="5.7"/>
<circle cx="113.8" cy="580.92" r="5.7"/>
<circle cx="86.89" cy="585.08" r="5.7"/>
<circle cx="157.62" cy="587.3" r="5.7"/>
<circle cx="98.54" cy="589.24" r="5.7"/>
<circle cx="90.77" cy="592.85" r="5.7"/>
<circle cx="154.85" cy="593.4" r="5.7"/>
<circle cx="109.08" cy="619.75" r="5.7"/>
<circle cx="148.47" cy="624.74" r="5.7"/>
<circle cx="174.26" cy="629.46" r="5.7"/>
<circle cx="158.73" cy="649.43" r="5.7"/>
<circle cx="176.2" cy="648.04" r="5.7"/>
</g>
<g fill="#ff7f00">
<circle cx="168.72" cy="505.2" r="5.7"/>
<circle cx="114.35" cy="516.85" r="5.7"/>
<circle cx="155.96" cy="516.29" r="5.7"/>
<circle cx="175.65" cy="539.87" r="5.7"/>
<circle cx="210.04" cy="562.06" r="5.7"/>
<circle cx="194.23" cy="577.59" r="5.7"/>
<circle cx="159.84" cy="579.53" r="5.7"/>
<circle cx="115.18" cy="592.01" r="5.7"/>
<circle cx="195.62" cy="592.85" r="5.7"/>
<circle cx="170.66" cy="599.5" r="5.7"/>
<circle cx="221.14" cy="601.72" r="5.7"/>
<circle cx="160.12" cy="611.43" r="5.7"/>
<circle cx="198.95" cy="615.59" r="5.7"/>
<circle cx="223.91" cy="617.81" r="5.7"/>
<circle cx="117.4" cy="624.74" r="5.7"/>
</g>
<polygon points="67.24,604.06 72.47,603.66 77.7,603.24 82.93,602.78 88.16,602.29 93.39,601.74 98.62,601.15 103.85,600.48 109.08,599.74 114.31,598.91 119.54,597.98 124.77,596.93 130,595.75 135.23,594.43 140.46,592.97 145.69,591.37 150.92,589.64 156.15,587.78 161.38,585.83 166.61,583.78 171.84,581.64 177.07,579.45 182.3,577.19 187.53,574.89 192.76,572.54 197.99,570.17 203.22,567.76 208.45,565.33 213.68,562.88 218.91,560.41 224.14,557.93 224.14,604.23 218.91,604.56 213.68,604.9 208.45,605.25 203.22,605.63 197.99,606.03 192.76,606.46 187.53,606.93 182.3,607.43 177.07,607.99 171.84,608.59 166.61,609.27 161.38,610.03 156.15,610.88 150.92,611.83 145.69,612.91 140.46,614.12 135.23,615.47 130,616.95 124.77,618.58 119.54,620.34 114.31,622.21 109.08,624.19 103.85,626.26 98.62,628.4 93.39,630.61 88.16,632.88 82.93,635.19 77.7,637.54 72.47,639.92 67.24,642.33" fill="rgb(80,80,80)" fill-opacity="0.25" clip-path="url(#clip-g)"/>
<line x1="67.61" y1="623.1" x2="223.78" y2="581.18" stroke="#000" stroke-width="2.45" stroke-linecap="round"/>
<rect x="53.5" y="491.45" width="182" height="200" fill="none" stroke="#1c1c1c" stroke-width="1.15"/>
<path d="M53.5 691.45v4.3M76.25 691.45v4.3M99 691.45v4.3M121.75 691.45v4.3M144.5 691.45v4.3M167.25 691.45v4.3M190 691.45v4.3M212.75 691.45v4.3M235.5 691.45v4.3M53.5 691.45h-4.5M53.5 669.23h-4.5M53.5 647.01h-4.5M53.5 624.78h-4.5M53.5 602.56h-4.5M53.5 580.34h-4.5M53.5 558.12h-4.5M53.5 535.89h-4.5M53.5 513.67h-4.5M53.5 491.45h-4.5" stroke="#1c1c1c" stroke-width="1.15" fill="none"/>
<g class="t">
<text transform="translate(53.5 708.75) scale(1 1.05)" text-anchor="middle" font-size="13">5</text>
<text transform="translate(76.25 708.75) scale(1 1.05)" text-anchor="middle" font-size="13">10</text>
<text transform="translate(99 708.75) scale(1 1.05)" text-anchor="middle" font-size="13">15</text>
<text transform="translate(121.75 708.75) scale(1 1.05)" text-anchor="middle" font-size="13">20</text>
<text transform="translate(144.5 708.75) scale(1 1.05)" text-anchor="middle" font-size="13">25</text>
<text transform="translate(167.25 708.75) scale(1 1.05)" text-anchor="middle" font-size="13">30</text>
<text transform="translate(190 708.75) scale(1 1.05)" text-anchor="middle" font-size="13">35</text>
<text transform="translate(212.75 708.75) scale(1 1.05)" text-anchor="middle" font-size="13">40</text>
<text transform="translate(235.5 708.75) scale(1 1.05)" text-anchor="middle" font-size="13">45</text>
<text transform="translate(46.5 695.15) scale(1 1.05)" text-anchor="end" font-size="13">1.7</text>
<text transform="translate(46.5 672.93) scale(1 1.05)" text-anchor="end" font-size="13">1.8</text>
<text transform="translate(46.5 650.71) scale(1 1.05)" text-anchor="end" font-size="13">1.9</text>
<text transform="translate(46.5 628.48) scale(1 1.05)" text-anchor="end" font-size="13">2.0</text>
<text transform="translate(46.5 606.26) scale(1 1.05)" text-anchor="end" font-size="13">2.1</text>
<text transform="translate(46.5 584.04) scale(1 1.05)" text-anchor="end" font-size="13">2.2</text>
<text transform="translate(46.5 561.82) scale(1 1.05)" text-anchor="end" font-size="13">2.3</text>
<text transform="translate(46.5 539.59) scale(1 1.05)" text-anchor="end" font-size="13">2.4</text>
<text transform="translate(46.5 517.37) scale(1 1.05)" text-anchor="end" font-size="13">2.5</text>
<text transform="translate(46.5 495.15) scale(1 1.05)" text-anchor="end" font-size="13">2.6</text>
<text transform="translate(144.5 727.45) scale(1 1.05)" text-anchor="middle" font-size="15.5">Soluble sugars (mg g<tspan dy="-6.2" font-size="9.92">-1</tspan><tspan dy="6.2">)</tspan></text>
<text transform="translate(19.5 591.45) rotate(-90) scale(1 1.0)" text-anchor="middle" font-size="17">Q<tspan dy="4" font-size="10.88">10</tspan><tspan dy="-4"> values</tspan></text>
<text transform="translate(66.4 511.65) scale(1 0.97)" text-anchor="middle" font-size="19">(g)</text>
<text transform="translate(230.9 685.55) scale(1 1.05)" text-anchor="end" font-size="13.4">R<tspan dy="-5.6" font-size="8.84">2</tspan><tspan dy="5.6"> = 0.10; </tspan><tspan font-style="italic">P</tspan> = 0.038</text>
</g>
</g>
<g id="panel-h">
<clipPath id="clip-h"><rect x="271.1" y="491.45" width="182.5" height="200"/></clipPath>
<g fill="#ff0000">
<circle cx="284.09" cy="598.39" r="5.7"/>
<circle cx="305.45" cy="596.18" r="5.7"/>
<circle cx="304.89" cy="609.21" r="5.7"/>
<circle cx="309.61" cy="615.59" r="5.7"/>
<circle cx="286.86" cy="628.63" r="5.7"/>
<circle cx="283.26" cy="630.85" r="5.7"/>
<circle cx="397.53" cy="634.45" r="5.7"/>
<circle cx="405.85" cy="635.01" r="5.7"/>
<circle cx="298.51" cy="641.11" r="5.7"/>
<circle cx="286.03" cy="646.66" r="5.7"/>
<circle cx="308.77" cy="653.04" r="5.7"/>
<circle cx="281.04" cy="661.36" r="5.7"/>
<circle cx="309.61" cy="664.13" r="5.7"/>
<circle cx="281.04" cy="675.23" r="5.7"/>
</g>
<g fill="#1f78b4">
<circle cx="291.58" cy="549.02" r="5.7"/>
<circle cx="401.97" cy="576.76" r="5.7"/>
<circle cx="315.71" cy="580.92" r="5.7"/>
<circle cx="300.73" cy="585.08" r="5.7"/>
<circle cx="305.45" cy="587.85" r="5.7"/>
<circle cx="298.51" cy="591.18" r="5.7"/>
<circle cx="292.41" cy="593.96" r="5.7"/>
<circle cx="302.67" cy="594.23" r="5.7"/>
<circle cx="313.77" cy="619.75" r="5.7"/>
<circle cx="317.37" cy="623.91" r="5.7"/>
<circle cx="297.68" cy="624.74" r="5.7"/>
<circle cx="403.36" cy="629.46" r="5.7"/>
<circle cx="299.07" cy="649.43" r="5.7"/>
<circle cx="401.14" cy="648.04" r="5.7"/>
</g>
<g fill="#ff7f00">
<circle cx="362.86" cy="505.2" r="5.7"/>
<circle cx="309.61" cy="516.85" r="5.7"/>
<circle cx="318.48" cy="516.29" r="5.7"/>
<circle cx="356.2" cy="539.87" r="5.7"/>
<circle cx="335.96" cy="562.06" r="5.7"/>
<circle cx="435.53" cy="577.59" r="5.7"/>
<circle cx="312.38" cy="579.53" r="5.7"/>
<circle cx="310.16" cy="592.01" r="5.7"/>
<circle cx="434.42" cy="592.85" r="5.7"/>
<circle cx="355.65" cy="598.95" r="5.7"/>
<circle cx="328.47" cy="601.72" r="5.7"/>
<circle cx="317.37" cy="611.43" r="5.7"/>
<circle cx="432.2" cy="615.59" r="5.7"/>
<circle cx="324.31" cy="617.81" r="5.7"/>
<circle cx="311.82" cy="624.74" r="5.7"/>
</g>
<rect x="271.1" y="491.45" width="182.5" height="200" fill="none" stroke="#1c1c1c" stroke-width="1.15"/>
<path d="M271.1 691.45v4.3M291.38 691.45v4.3M311.66 691.45v4.3M331.93 691.45v4.3M352.21 691.45v4.3M372.49 691.45v4.3M392.77 691.45v4.3M413.04 691.45v4.3M433.32 691.45v4.3M453.6 691.45v4.3M271.1 691.45h-4.5M271.1 669.23h-4.5M271.1 647.01h-4.5M271.1 624.78h-4.5M271.1 602.56h-4.5M271.1 580.34h-4.5M271.1 558.12h-4.5M271.1 535.89h-4.5M271.1 513.67h-4.5M271.1 491.45h-4.5" stroke="#1c1c1c" stroke-width="1.15" fill="none"/>
<g class="t">
<text transform="translate(271.1 708.75) scale(1 1.05)" text-anchor="middle" font-size="13">0</text>
<text transform="translate(291.38 708.75) scale(1 1.05)" text-anchor="middle" font-size="13">10</text>
<text transform="translate(311.66 708.75) scale(1 1.05)" text-anchor="middle" font-size="13">20</text>
<text transform="translate(331.93 708.75) scale(1 1.05)" text-anchor="middle" font-size="13">30</text>
<text transform="translate(352.21 708.75) scale(1 1.05)" text-anchor="middle" font-size="13">40</text>
<text transform="translate(372.49 708.75) scale(1 1.05)" text-anchor="middle" font-size="13">50</text>
<text transform="translate(392.77 708.75) scale(1 1.05)" text-anchor="middle" font-size="13">60</text>
<text transform="translate(413.04 708.75) scale(1 1.05)" text-anchor="middle" font-size="13">70</text>
<text transform="translate(433.32 708.75) scale(1 1.05)" text-anchor="middle" font-size="13">80</text>
<text transform="translate(453.6 708.75) scale(1 1.05)" text-anchor="middle" font-size="13">90</text>
<text transform="translate(264.1 695.15) scale(1 1.05)" text-anchor="end" font-size="13">1.7</text>
<text transform="translate(264.1 672.93) scale(1 1.05)" text-anchor="end" font-size="13">1.8</text>
<text transform="translate(264.1 650.71) scale(1 1.05)" text-anchor="end" font-size="13">1.9</text>
<text transform="translate(264.1 628.48) scale(1 1.05)" text-anchor="end" font-size="13">2.0</text>
<text transform="translate(264.1 606.26) scale(1 1.05)" text-anchor="end" font-size="13">2.1</text>
<text transform="translate(264.1 584.04) scale(1 1.05)" text-anchor="end" font-size="13">2.2</text>
<text transform="translate(264.1 561.82) scale(1 1.05)" text-anchor="end" font-size="13">2.3</text>
<text transform="translate(264.1 539.59) scale(1 1.05)" text-anchor="end" font-size="13">2.4</text>
<text transform="translate(264.1 517.37) scale(1 1.05)" text-anchor="end" font-size="13">2.5</text>
<text transform="translate(264.1 495.15) scale(1 1.05)" text-anchor="end" font-size="13">2.6</text>
<text transform="translate(367.45 728.95) scale(1 1.05)" text-anchor="middle" font-size="15.5">Starch (mg g<tspan dy="-6.2" font-size="9.92">-1</tspan><tspan dy="6.2">)</tspan></text>
<text transform="translate(284 511.65) scale(1 0.97)" text-anchor="middle" font-size="19">(h)</text>
<text transform="translate(450.6 683.65) scale(1 1.05)" text-anchor="end" font-size="13.4"><tspan font-style="italic">P</tspan> &gt; 0.05</text>
</g>
</g>
<g id="panel-i">
<clipPath id="clip-i"><rect x="488.6" y="491.45" width="182.9" height="200"/></clipPath>
<g fill="#ff0000">
<circle cx="556.56" cy="598.39" r="5.7"/>
<circle cx="613.42" cy="594.79" r="5.7"/>
<circle cx="618.97" cy="609.21" r="5.7"/>
<circle cx="561.83" cy="616.42" r="5.7"/>
<circle cx="562.11" cy="626.69" r="5.7"/>
<circle cx="562.66" cy="630.85" r="5.7"/>
<circle cx="513.57" cy="634.18" r="5.7"/>
<circle cx="609.82" cy="641.11" r="5.7"/>
<circle cx="531.6" cy="646.66" r="5.7"/>
<circle cx="557.95" cy="652.48" r="5.7"/>
<circle cx="527.99" cy="661.36" r="5.7"/>
<circle cx="565.99" cy="664.13" r="5.7"/>
<circle cx="532.15" cy="675.23" r="5.7"/>
</g>
<g fill="#1f78b4">
<circle cx="615.36" cy="549.02" r="5.7"/>
<circle cx="555.73" cy="576.76" r="5.7"/>
<circle cx="656.14" cy="580.92" r="5.7"/>
<circle cx="581.25" cy="585.64" r="5.7"/>
<circle cx="589.01" cy="587.3" r="5.7"/>
<circle cx="576.53" cy="589.24" r="5.7"/>
<circle cx="584.02" cy="593.4" r="5.7"/>
<circle cx="618.14" cy="593.96" r="5.7"/>
<circle cx="653.36" cy="619.75" r="5.7"/>
<circle cx="654.2" cy="624.47" r="5.7"/>
<circle cx="611.76" cy="625.3" r="5.7"/>
<circle cx="551.01" cy="629.46" r="5.7"/>
<circle cx="547.41" cy="648.32" r="5.7"/>
<circle cx="594.01" cy="649.43" r="5.7"/>
</g>
<g fill="#ff7f00">
<circle cx="609.82" cy="505.2" r="5.7"/>
<circle cx="595.95" cy="516.85" r="5.7"/>
<circle cx="600.11" cy="516.29" r="5.7"/>
<circle cx="600.66" cy="539.87" r="5.7"/>
<circle cx="591.79" cy="562.06" r="5.7"/>
<circle cx="613.98" cy="577.59" r="5.7"/>
<circle cx="605.66" cy="579.53" r="5.7"/>
<circle cx="603.72" cy="592.01" r="5.7"/>
<circle cx="616.2" cy="593.4" r="5.7"/>
<circle cx="597.34" cy="601.17" r="5.7"/>
<circle cx="606.21" cy="599.5" r="5.7"/>
<circle cx="601.5" cy="610.88" r="5.7"/>
<circle cx="608.99" cy="615.59" r="5.7"/>
<circle cx="593.73" cy="617.81" r="5.7"/>
<circle cx="591.79" cy="624.74" r="5.7"/>
</g>
<polygon points="513.34,612.33 518.09,611.48 522.84,610.62 527.59,609.74 532.33,608.83 537.08,607.89 541.83,606.92 546.58,605.9 551.33,604.83 556.08,603.7 560.83,602.48 565.58,601.16 570.33,599.71 575.08,598.12 579.83,596.34 584.58,594.35 589.33,592.14 594.08,589.71 598.82,587.04 603.57,584.18 608.32,581.14 613.07,577.94 617.82,574.63 622.57,571.22 627.32,567.72 632.07,564.17 636.82,560.56 641.57,556.9 646.32,553.22 651.07,549.5 655.82,545.76 655.82,596.14 651.07,597.02 646.32,597.92 641.57,598.86 636.82,599.83 632.07,600.84 627.32,601.9 622.57,603.03 617.82,604.23 613.07,605.54 608.32,606.97 603.57,608.55 598.82,610.31 594.08,612.26 589.33,614.45 584.58,616.86 579.83,619.5 575.08,622.34 570.33,625.36 565.58,628.54 560.83,631.84 556.08,635.24 551.33,638.72 546.58,642.28 541.83,645.88 537.08,649.53 532.33,653.21 527.59,656.93 522.84,660.66 518.09,664.42 513.34,668.2" fill="rgb(80,80,80)" fill-opacity="0.25" clip-path="url(#clip-i)"/>
<line x1="513.64" y1="640.12" x2="655.52" y2="571.09" stroke="#000" stroke-width="2.45" stroke-linecap="round"/>
<rect x="488.6" y="491.45" width="182.9" height="200" fill="none" stroke="#1c1c1c" stroke-width="1.15"/>
<path d="M508.92 691.45v4.3M539.41 691.45v4.3M569.89 691.45v4.3M600.37 691.45v4.3M630.86 691.45v4.3M661.34 691.45v4.3M488.6 691.45h-4.5M488.6 669.23h-4.5M488.6 647.01h-4.5M488.6 624.78h-4.5M488.6 602.56h-4.5M488.6 580.34h-4.5M488.6 558.12h-4.5M488.6 535.89h-4.5M488.6 513.67h-4.5M488.6 491.45h-4.5" stroke="#1c1c1c" stroke-width="1.15" fill="none"/>
<g class="t">
<text transform="translate(508.92 708.75) scale(1 1.05)" text-anchor="middle" font-size="13">60</text>
<text transform="translate(539.41 708.75) scale(1 1.05)" text-anchor="middle" font-size="13">75</text>
<text transform="translate(569.89 708.75) scale(1 1.05)" text-anchor="middle" font-size="13">90</text>
<text transform="translate(600.37 708.75) scale(1 1.05)" text-anchor="middle" font-size="13">105</text>
<text transform="translate(630.86 708.75) scale(1 1.05)" text-anchor="middle" font-size="13">120</text>
<text transform="translate(661.34 708.75) scale(1 1.05)" text-anchor="middle" font-size="13">135</text>
<text transform="translate(481.6 695.15) scale(1 1.05)" text-anchor="end" font-size="13">1.7</text>
<text transform="translate(481.6 672.93) scale(1 1.05)" text-anchor="end" font-size="13">1.8</text>
<text transform="translate(481.6 650.71) scale(1 1.05)" text-anchor="end" font-size="13">1.9</text>
<text transform="translate(481.6 628.48) scale(1 1.05)" text-anchor="end" font-size="13">2.0</text>
<text transform="translate(481.6 606.26) scale(1 1.05)" text-anchor="end" font-size="13">2.1</text>
<text transform="translate(481.6 584.04) scale(1 1.05)" text-anchor="end" font-size="13">2.2</text>
<text transform="translate(481.6 561.82) scale(1 1.05)" text-anchor="end" font-size="13">2.3</text>
<text transform="translate(481.6 539.59) scale(1 1.05)" text-anchor="end" font-size="13">2.4</text>
<text transform="translate(481.6 517.37) scale(1 1.05)" text-anchor="end" font-size="13">2.5</text>
<text transform="translate(481.6 495.15) scale(1 1.05)" text-anchor="end" font-size="13">2.6</text>
<text transform="translate(580.05 728.85) scale(1 1.05)" text-anchor="middle" font-size="15.5">Lignin (mg g<tspan dy="-6.2" font-size="9.92">-1</tspan><tspan dy="6.2">)</tspan></text>
<text transform="translate(501.5 511.65) scale(1 0.97)" text-anchor="middle" font-size="19">(i)</text>
<text transform="translate(665.6 685.05) scale(1 1.05)" text-anchor="end" font-size="13.4">R<tspan dy="-5.6" font-size="8.84">2</tspan><tspan dy="5.6"> = 0.21; </tspan><tspan font-style="italic">P</tspan> = 0.002</text>
</g>
</g>
<g id="panel-j">
<clipPath id="clip-j"><rect x="53.5" y="733.45" width="182" height="199.8"/></clipPath>
<g fill="#ff0000">
<circle cx="97.99" cy="840.39" r="5.7"/>
<circle cx="127.66" cy="838.18" r="5.7"/>
<circle cx="139.59" cy="851.21" r="5.7"/>
<circle cx="119.9" cy="858.98" r="5.7"/>
<circle cx="99.09" cy="870.63" r="5.7"/>
<circle cx="104.64" cy="872.85" r="5.7"/>
<circle cx="71.64" cy="876.45" r="5.7"/>
<circle cx="77.74" cy="876.18" r="5.7"/>
<circle cx="81.34" cy="877.84" r="5.7"/>
<circle cx="129.61" cy="883.11" r="5.7"/>
<circle cx="88" cy="888.66" r="5.7"/>
<circle cx="111.58" cy="895.04" r="5.7"/>
<circle cx="81.07" cy="903.36" r="5.7"/>
<circle cx="112.41" cy="906.13" r="5.7"/>
<circle cx="87.45" cy="917.23" r="5.7"/>
</g>
<g fill="#1f78b4">
<circle cx="175.37" cy="791.02" r="5.7"/>
<circle cx="122.67" cy="818.76" r="5.7"/>
<circle cx="174.82" cy="822.92" r="5.7"/>
<circle cx="132.38" cy="827.64" r="5.7"/>
<circle cx="129.88" cy="831.24" r="5.7"/>
<circle cx="135.99" cy="835.96" r="5.7"/>
<circle cx="128.5" cy="835.4" r="5.7"/>
<circle cx="172.04" cy="835.96" r="5.7"/>
<circle cx="160.12" cy="861.75" r="5.7"/>
<circle cx="162.89" cy="867.3" r="5.7"/>
<circle cx="114.35" cy="872.29" r="5.7"/>
<circle cx="109.64" cy="890.32" r="5.7"/>
<circle cx="136.82" cy="892.26" r="5.7"/>
</g>
<g fill="#ff7f00">
<circle cx="220.03" cy="747.2" r="5.7"/>
<circle cx="156.79" cy="758.85" r="5.7"/>
<circle cx="160.39" cy="758.85" r="5.7"/>
<circle cx="178.15" cy="781.87" r="5.7"/>
<circle cx="182.58" cy="804.06" r="5.7"/>
<circle cx="164.28" cy="819.59" r="5.7"/>
<circle cx="153.18" cy="822.09" r="5.7"/>
<circle cx="171.21" cy="834.01" r="5.7"/>
<circle cx="193.4" cy="841.5" r="5.7"/>
<circle cx="176.2" cy="843.72" r="5.7"/>
<circle cx="154.01" cy="852.88" r="5.7"/>
<circle cx="153.18" cy="858.42" r="5.7"/>
<circle cx="167.05" cy="860.36" r="5.7"/>
<circle cx="152.07" cy="867.3" r="5.7"/>
</g>
<polygon points="72.24,877.65 77.16,875.12 82.08,872.56 87.01,869.97 91.93,867.35 96.86,864.68 101.78,861.97 106.71,859.2 111.63,856.34 116.56,853.4 121.48,850.34 126.41,847.14 131.33,843.79 136.26,840.27 141.18,836.56 146.11,832.69 151.03,828.65 155.96,824.47 160.88,820.16 165.81,815.75 170.73,811.26 175.66,806.69 180.58,802.08 185.51,797.42 190.43,792.72 195.36,787.99 200.28,783.23 205.21,778.46 210.13,773.67 215.06,768.86 219.98,764.04 219.98,810.57 215.06,813.05 210.13,815.55 205.21,818.05 200.28,820.58 195.36,823.13 190.43,825.7 185.51,828.3 180.58,830.94 175.66,833.62 170.73,836.36 165.81,839.17 160.88,842.06 155.96,845.05 151.03,848.17 146.11,851.43 141.18,854.85 136.26,858.45 131.33,862.23 126.41,866.18 121.48,870.28 116.56,874.52 111.63,878.88 106.71,883.32 101.78,887.85 96.86,892.44 91.93,897.07 87.01,901.75 82.08,906.46 77.16,911.2 72.24,915.97" fill="rgb(80,80,80)" fill-opacity="0.25" clip-path="url(#clip-j)"/>
<line x1="72.44" y1="896.66" x2="219.78" y2="787.46" stroke="#000" stroke-width="2.45" stroke-linecap="round"/>
<rect x="53.5" y="733.45" width="182" height="199.8" fill="none" stroke="#1c1c1c" stroke-width="1.15"/>
<path d="M73.72 933.25v4.3M114.17 933.25v4.3M154.61 933.25v4.3M195.06 933.25v4.3M235.5 933.25v4.3M53.5 933.25h-4.5M53.5 911.05h-4.5M53.5 888.85h-4.5M53.5 866.65h-4.5M53.5 844.45h-4.5M53.5 822.25h-4.5M53.5 800.05h-4.5M53.5 777.85h-4.5M53.5 755.65h-4.5M53.5 733.45h-4.5" stroke="#1c1c1c" stroke-width="1.15" fill="none"/>
<g class="t">
<text transform="translate(73.72 950.55) scale(1 1.05)" text-anchor="middle" font-size="13">2</text>
<text transform="translate(114.17 950.55) scale(1 1.05)" text-anchor="middle" font-size="13">3</text>
<text transform="translate(154.61 950.55) scale(1 1.05)" text-anchor="middle" font-size="13">4</text>
<text transform="translate(195.06 950.55) scale(1 1.05)" text-anchor="middle" font-size="13">5</text>
<text transform="translate(235.5 950.55) scale(1 1.05)" text-anchor="middle" font-size="13">6</text>
<text transform="translate(46.5 936.95) scale(1 1.05)" text-anchor="end" font-size="13">1.7</text>
<text transform="translate(46.5 914.75) scale(1 1.05)" text-anchor="end" font-size="13">1.8</text>
<text transform="translate(46.5 892.55) scale(1 1.05)" text-anchor="end" font-size="13">1.9</text>
<text transform="translate(46.5 870.35) scale(1 1.05)" text-anchor="end" font-size="13">2.0</text>
<text transform="translate(46.5 848.15) scale(1 1.05)" text-anchor="end" font-size="13">2.1</text>
<text transform="translate(46.5 825.95) scale(1 1.05)" text-anchor="end" font-size="13">2.2</text>
<text transform="translate(46.5 803.75) scale(1 1.05)" text-anchor="end" font-size="13">2.3</text>
<text transform="translate(46.5 781.55) scale(1 1.05)" text-anchor="end" font-size="13">2.4</text>
<text transform="translate(46.5 759.35) scale(1 1.05)" text-anchor="end" font-size="13">2.5</text>
<text transform="translate(46.5 737.15) scale(1 1.05)" text-anchor="end" font-size="13">2.6</text>
<text transform="translate(144.2 966.05) scale(1 1.05)" text-anchor="middle" font-size="15.5">Lignin:N ratio</text>
<text transform="translate(19.5 833.85) rotate(-90) scale(1 1.0)" text-anchor="middle" font-size="17.7">Q<tspan dy="4" font-size="11.33">10</tspan><tspan dy="-4" dx="0.8">values</tspan></text>
<text transform="translate(66.4 753.65) scale(1 0.97)" text-anchor="middle" font-size="19">(j)</text>
<text transform="translate(229.5 929.15) scale(1 1.05)" text-anchor="end" font-size="13.4">R<tspan dy="-5.6" font-size="8.84">2</tspan><tspan dy="5.6"> = 0.44; </tspan><tspan font-style="italic">P</tspan> &lt; 0.001</text>
</g>
</g>
<g id="panel-k">
<clipPath id="clip-k"><rect x="271.1" y="733.45" width="182.5" height="199.8"/></clipPath>
<g fill="#ff0000">
<circle cx="286.03" cy="836.79" r="5.7"/>
<circle cx="287.97" cy="840.39" r="5.7"/>
<circle cx="292.13" cy="851.21" r="5.7"/>
<circle cx="314.6" cy="858.42" r="5.7"/>
<circle cx="285.2" cy="870.07" r="5.7"/>
<circle cx="290.19" cy="871.46" r="5.7"/>
<circle cx="285.2" cy="876.45" r="5.7"/>
<circle cx="297.96" cy="877.01" r="5.7"/>
<circle cx="289.64" cy="883.11" r="5.7"/>
<circle cx="300.45" cy="888.66" r="5.7"/>
<circle cx="309.61" cy="895.04" r="5.7"/>
<circle cx="292.41" cy="903.36" r="5.7"/>
<circle cx="304.61" cy="906.13" r="5.7"/>
<circle cx="299.07" cy="917.23" r="5.7"/>
</g>
<g fill="#1f78b4">
<circle cx="353.15" cy="791.02" r="5.7"/>
<circle cx="358.15" cy="818.76" r="5.7"/>
<circle cx="325.69" cy="822.92" r="5.7"/>
<circle cx="313.77" cy="829.85" r="5.7"/>
<circle cx="333.18" cy="831.24" r="5.7"/>
<circle cx="319.87" cy="835.4" r="5.7"/>
<circle cx="350.38" cy="835.96" r="5.7"/>
<circle cx="324.31" cy="828.47" r="5.7"/>
<circle cx="315.99" cy="861.75" r="5.7"/>
<circle cx="316.54" cy="866.74" r="5.7"/>
<circle cx="342.89" cy="867.3" r="5.7"/>
<circle cx="349.82" cy="872.01" r="5.7"/>
<circle cx="317.37" cy="891.71" r="5.7"/>
<circle cx="346.22" cy="890.32" r="5.7"/>
</g>
<g fill="#ff7f00">
<circle cx="426.93" cy="747.2" r="5.7"/>
<circle cx="337.9" cy="758.85" r="5.7"/>
<circle cx="353.99" cy="758.29" r="5.7"/>
<circle cx="387.82" cy="781.87" r="5.7"/>
<circle cx="367.02" cy="804.06" r="5.7"/>
<circle cx="370.63" cy="819.59" r="5.7"/>
<circle cx="342.06" cy="821.53" r="5.7"/>
<circle cx="342.89" cy="834.01" r="5.7"/>
<circle cx="377.01" cy="834.85" r="5.7"/>
<circle cx="399.75" cy="841.5" r="5.7"/>
<circle cx="353.99" cy="843.72" r="5.7"/>
<circle cx="345.66" cy="852.88" r="5.7"/>
<circle cx="361.75" cy="857.59" r="5.7"/>
<circle cx="349.27" cy="859.81" r="5.7"/>
<circle cx="333.74" cy="867.3" r="5.7"/>
</g>
<polygon points="286.07,863.5 290.79,861.18 295.5,858.81 300.21,856.37 304.92,853.87 309.64,851.26 314.35,848.55 319.06,845.69 323.77,842.68 328.49,839.49 333.2,836.1 337.91,832.52 342.62,828.76 347.33,824.83 352.05,820.76 356.76,816.57 361.47,812.28 366.18,807.91 370.9,803.48 375.61,798.99 380.32,794.46 385.03,789.9 389.75,785.31 394.46,780.69 399.17,776.06 403.88,771.4 408.59,766.74 413.31,762.06 418.02,757.37 422.73,752.67 427.44,747.97 427.44,807.21 422.73,809.32 418.02,811.45 413.31,813.58 408.59,815.72 403.88,817.88 399.17,820.04 394.46,822.23 389.75,824.43 385.03,826.66 380.32,828.92 375.61,831.21 370.9,833.55 366.18,835.93 361.47,838.39 356.76,840.92 352.05,843.55 347.33,846.3 342.62,849.19 337.91,852.25 333.2,855.49 328.49,858.93 323.77,862.55 319.06,866.36 314.35,870.33 309.64,874.44 304.92,878.65 300.21,882.97 295.5,887.35 290.79,891.8 286.07,896.3" fill="rgb(80,80,80)" fill-opacity="0.25" clip-path="url(#clip-k)"/>
<line x1="286.28" y1="879.75" x2="427.23" y2="777.74" stroke="#000" stroke-width="2.45" stroke-linecap="round"/>
<rect x="271.1" y="733.45" width="182.5" height="199.8" fill="none" stroke="#1c1c1c" stroke-width="1.15"/>
<path d="M271.1 933.25v4.3M291.38 933.25v4.3M311.66 933.25v4.3M331.93 933.25v4.3M352.21 933.25v4.3M372.49 933.25v4.3M392.77 933.25v4.3M413.04 933.25v4.3M433.32 933.25v4.3M453.6 933.25v4.3M271.1 933.25h-4.5M271.1 911.05h-4.5M271.1 888.85h-4.5M271.1 866.65h-4.5M271.1 844.45h-4.5M271.1 822.25h-4.5M271.1 800.05h-4.5M271.1 777.85h-4.5M271.1 755.65h-4.5M271.1 733.45h-4.5" stroke="#1c1c1c" stroke-width="1.15" fill="none"/>
<g class="t">
<text transform="translate(271.1 950.55) scale(1 1.05)" text-anchor="middle" font-size="13">10</text>
<text transform="translate(291.38 950.55) scale(1 1.05)" text-anchor="middle" font-size="13">12</text>
<text transform="translate(311.66 950.55) scale(1 1.05)" text-anchor="middle" font-size="13">14</text>
<text transform="translate(331.93 950.55) scale(1 1.05)" text-anchor="middle" font-size="13">16</text>
<text transform="translate(352.21 950.55) scale(1 1.05)" text-anchor="middle" font-size="13">18</text>
<text transform="translate(372.49 950.55) scale(1 1.05)" text-anchor="middle" font-size="13">20</text>
<text transform="translate(392.77 950.55) scale(1 1.05)" text-anchor="middle" font-size="13">22</text>
<text transform="translate(413.04 950.55) scale(1 1.05)" text-anchor="middle" font-size="13">24</text>
<text transform="translate(433.32 950.55) scale(1 1.05)" text-anchor="middle" font-size="13">26</text>
<text transform="translate(453.6 950.55) scale(1 1.05)" text-anchor="middle" font-size="13">28</text>
<text transform="translate(264.1 936.95) scale(1 1.05)" text-anchor="end" font-size="13">1.7</text>
<text transform="translate(264.1 914.75) scale(1 1.05)" text-anchor="end" font-size="13">1.8</text>
<text transform="translate(264.1 892.55) scale(1 1.05)" text-anchor="end" font-size="13">1.9</text>
<text transform="translate(264.1 870.35) scale(1 1.05)" text-anchor="end" font-size="13">2.0</text>
<text transform="translate(264.1 848.15) scale(1 1.05)" text-anchor="end" font-size="13">2.1</text>
<text transform="translate(264.1 825.95) scale(1 1.05)" text-anchor="end" font-size="13">2.2</text>
<text transform="translate(264.1 803.75) scale(1 1.05)" text-anchor="end" font-size="13">2.3</text>
<text transform="translate(264.1 781.55) scale(1 1.05)" text-anchor="end" font-size="13">2.4</text>
<text transform="translate(264.1 759.35) scale(1 1.05)" text-anchor="end" font-size="13">2.5</text>
<text transform="translate(264.1 737.15) scale(1 1.05)" text-anchor="end" font-size="13">2.6</text>
<text transform="translate(367.85 969.65) scale(1 1.05)" text-anchor="middle" font-size="15.5">C:N ratio</text>
<text transform="translate(284 753.65) scale(1 0.97)" text-anchor="middle" font-size="19">(k)</text>
<text transform="translate(447 927.45) scale(1 1.05)" text-anchor="end" font-size="13.4">R<tspan dy="-5.6" font-size="8.84">2</tspan><tspan dy="5.6"> = 0.39; </tspan><tspan font-style="italic">P</tspan> &lt; 0.001</text>
</g>
</g>
<g id="panel-l">
<clipPath id="clip-l"><rect x="488.6" y="733.45" width="182.9" height="199.8"/></clipPath>
<g fill="#ff0000">
<circle cx="618.14" cy="836.79" r="5.7"/>
<circle cx="650.04" cy="840.39" r="5.7"/>
<circle cx="630.62" cy="851.21" r="5.7"/>
<circle cx="618.14" cy="858.98" r="5.7"/>
<circle cx="662.52" cy="870.63" r="5.7"/>
<circle cx="652.26" cy="872.85" r="5.7"/>
<circle cx="585.69" cy="876.45" r="5.7"/>
<circle cx="594.56" cy="877.01" r="5.7"/>
<circle cx="625.91" cy="883.11" r="5.7"/>
<circle cx="621.74" cy="888.66" r="5.7"/>
<circle cx="622.85" cy="895.04" r="5.7"/>
<circle cx="641.72" cy="902.8" r="5.7"/>
<circle cx="624.52" cy="906.13" r="5.7"/>
<circle cx="625.63" cy="917.23" r="5.7"/>
</g>
<g fill="#1f78b4">
<circle cx="560.45" cy="791.02" r="5.7"/>
<circle cx="552.4" cy="818.76" r="5.7"/>
<circle cx="571.82" cy="822.92" r="5.7"/>
<circle cx="573.76" cy="827.64" r="5.7"/>
<circle cx="547.41" cy="829.85" r="5.7"/>
<circle cx="562.66" cy="831.24" r="5.7"/>
<circle cx="568.21" cy="835.4" r="5.7"/>
<circle cx="537.7" cy="836.79" r="5.7"/>
<circle cx="564.88" cy="836.23" r="5.7"/>
<circle cx="560.72" cy="861.75" r="5.7"/>
<circle cx="572.37" cy="866.74" r="5.7"/>
<circle cx="557.95" cy="872.01" r="5.7"/>
<circle cx="545.19" cy="891.71" r="5.7"/>
<circle cx="555.18" cy="890.32" r="5.7"/>
</g>
<g fill="#ff7f00">
<circle cx="536.87" cy="747.2" r="5.7"/>
<circle cx="513.57" cy="758.57" r="5.7"/>
<circle cx="532.71" cy="758.85" r="5.7"/>
<circle cx="529.38" cy="781.87" r="5.7"/>
<circle cx="514.12" cy="804.06" r="5.7"/>
<circle cx="534.09" cy="820.15" r="5.7"/>
<circle cx="515.51" cy="821.53" r="5.7"/>
<circle cx="543.8" cy="833.18" r="5.7"/>
<circle cx="531.32" cy="835.4" r="5.7"/>
<circle cx="525.77" cy="840.95" r="5.7"/>
<circle cx="520.23" cy="843.72" r="5.7"/>
<circle cx="521.89" cy="852.88" r="5.7"/>
<circle cx="520.23" cy="857.59" r="5.7"/>
<circle cx="518.84" cy="860.36" r="5.7"/>
<circle cx="534.37" cy="867.3" r="5.7"/>
</g>
<polygon points="514.17,803.17 519.09,806.47 524.02,809.75 528.94,812.97 533.87,816.15 538.79,819.27 543.72,822.32 548.64,825.29 553.57,828.16 558.49,830.93 563.42,833.58 568.34,836.11 573.27,838.51 578.19,840.79 583.12,842.94 588.04,844.99 592.97,846.93 597.89,848.79 602.82,850.57 607.74,852.28 612.67,853.94 617.59,855.56 622.52,857.13 627.44,858.67 632.37,860.18 637.29,861.66 642.22,863.13 647.14,864.57 652.07,866.01 656.99,867.42 661.92,868.83 661.92,916.21 656.99,912.76 652.07,909.32 647.14,905.89 642.22,902.47 637.29,899.08 632.37,895.7 627.44,892.35 622.52,889.03 617.59,885.74 612.67,882.49 607.74,879.29 602.82,876.14 597.89,873.06 592.97,870.06 588.04,867.14 583.12,864.33 578.19,861.62 573.27,859.04 568.34,856.58 563.42,854.25 558.49,852.04 553.57,849.95 548.64,847.96 543.72,846.07 538.79,844.25 533.87,842.51 528.94,840.83 524.02,839.2 519.09,837.61 514.17,836.05" fill="rgb(80,80,80)" fill-opacity="0.25" clip-path="url(#clip-l)"/>
<line x1="514.47" y1="819.76" x2="661.62" y2="892.37" stroke="#000" stroke-width="2.45" stroke-linecap="round"/>
<rect x="488.6" y="733.45" width="182.9" height="199.8" fill="none" stroke="#1c1c1c" stroke-width="1.15"/>
<path d="M488.6 933.25v4.3M514.73 933.25v4.3M540.86 933.25v4.3M566.99 933.25v4.3M593.11 933.25v4.3M619.24 933.25v4.3M645.37 933.25v4.3M671.5 933.25v4.3M488.6 933.25h-4.5M488.6 911.05h-4.5M488.6 888.85h-4.5M488.6 866.65h-4.5M488.6 844.45h-4.5M488.6 822.25h-4.5M488.6 800.05h-4.5M488.6 777.85h-4.5M488.6 755.65h-4.5M488.6 733.45h-4.5" stroke="#1c1c1c" stroke-width="1.15" fill="none"/>
<g class="t">
<text transform="translate(488.6 950.55) scale(1 1.05)" text-anchor="middle" font-size="13">30</text>
<text transform="translate(514.73 950.55) scale(1 1.05)" text-anchor="middle" font-size="13">40</text>
<text transform="translate(540.86 950.55) scale(1 1.05)" text-anchor="middle" font-size="13">50</text>
<text transform="translate(566.99 950.55) scale(1 1.05)" text-anchor="middle" font-size="13">60</text>
<text transform="translate(593.11 950.55) scale(1 1.05)" text-anchor="middle" font-size="13">70</text>
<text transform="translate(619.24 950.55) scale(1 1.05)" text-anchor="middle" font-size="13">80</text>
<text transform="translate(645.37 950.55) scale(1 1.05)" text-anchor="middle" font-size="13">90</text>
<text transform="translate(671.5 950.55) scale(1 1.05)" text-anchor="middle" font-size="13">100</text>
<text transform="translate(481.6 936.95) scale(1 1.05)" text-anchor="end" font-size="13">1.7</text>
<text transform="translate(481.6 914.75) scale(1 1.05)" text-anchor="end" font-size="13">1.8</text>
<text transform="translate(481.6 892.55) scale(1 1.05)" text-anchor="end" font-size="13">1.9</text>
<text transform="translate(481.6 870.35) scale(1 1.05)" text-anchor="end" font-size="13">2.0</text>
<text transform="translate(481.6 848.15) scale(1 1.05)" text-anchor="end" font-size="13">2.1</text>
<text transform="translate(481.6 825.95) scale(1 1.05)" text-anchor="end" font-size="13">2.2</text>
<text transform="translate(481.6 803.75) scale(1 1.05)" text-anchor="end" font-size="13">2.3</text>
<text transform="translate(481.6 781.55) scale(1 1.05)" text-anchor="end" font-size="13">2.4</text>
<text transform="translate(481.6 759.35) scale(1 1.05)" text-anchor="end" font-size="13">2.5</text>
<text transform="translate(481.6 737.15) scale(1 1.05)" text-anchor="end" font-size="13">2.6</text>
<text transform="translate(579.75 969.65) scale(1 1.05)" text-anchor="middle" font-size="15.5">Tannin (mg g<tspan dy="-6.2" font-size="9.92">-1</tspan><tspan dy="6.2">)</tspan></text>
<text transform="translate(501.5 753.65) scale(1 0.97)" text-anchor="middle" font-size="19">(l)</text>
<text transform="translate(491.8 926.35) scale(1 1.05)" font-size="13.4">R<tspan dy="-5.6" font-size="8.84">2</tspan><tspan dy="5.6"> = 0.31; </tspan><tspan font-style="italic">P</tspan> &lt; 0.001</text>
</g>
</g>
</svg>
</body></html>
